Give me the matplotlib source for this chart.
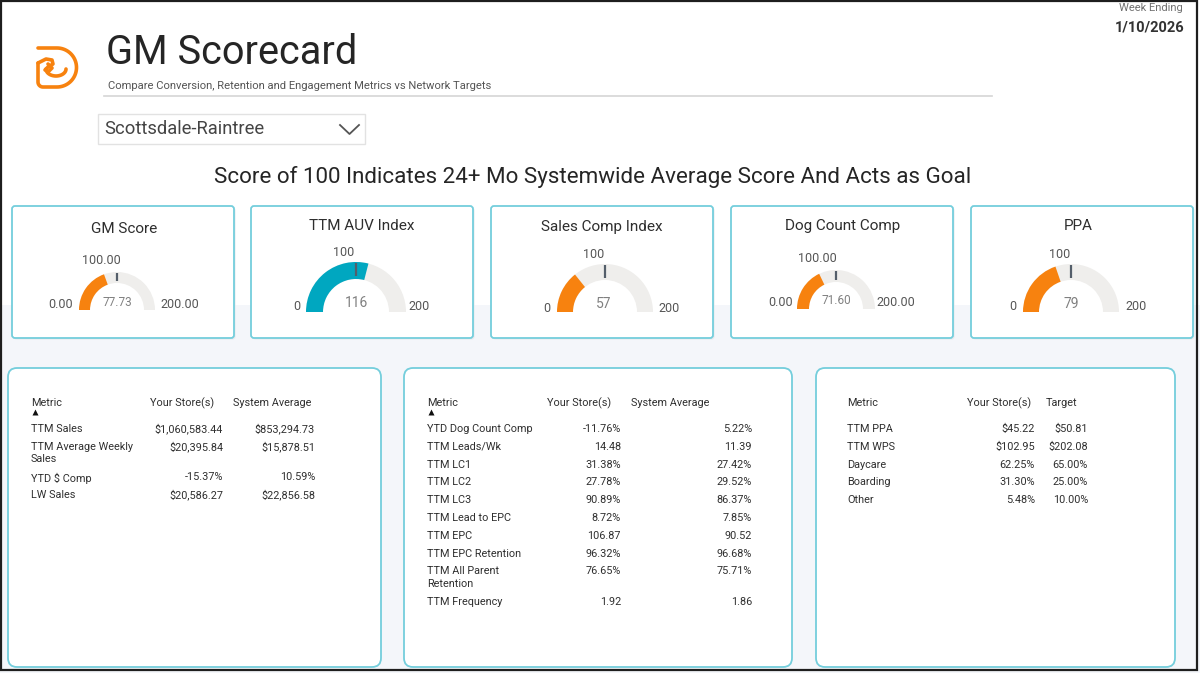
import matplotlib
matplotlib.use("Agg")
import matplotlib.pyplot as plt
from matplotlib.patches import Wedge, FancyBboxPatch, Rectangle, PathPatch
from matplotlib.path import Path
import numpy as np

plt.rcParams['font.family'] = ['Roboto', 'DejaVu Sans']

# ---------------- data ----------------
title_text = "GM Scorecard"
subtitle_text = "Compare Conversion, Retention and Engagement Metrics vs Network Targets"
store_name = "Scottsdale-Raintree"
week_label = "Week Ending"
week_date = "1/10/2026"
headline = "Score of 100 Indicates 24+ Mo Systemwide Average Score And Acts as Goal"

gauge_titles = ["GM Score", "TTM AUV Index", "Sales Comp Index", "Dog Count Comp", "PPA"]
gauge_values = [77.73, 116, 57, 71.60, 79]
gauge_targets = [100, 100, 100, 100, 100]
gauge_min = [0, 0, 0, 0, 0]
gauge_max = [200, 200, 200, 200, 200]
gauge_decimals = [2, 0, 0, 2, 0]

t1_header = ["Metric", "Your Store(s)", "System Average"]
t1_metrics = ["TTM Sales", "TTM Average Weekly\nSales", "YTD $ Comp", "LW Sales"]
t1_store = ["$1,060,583.44", "$20,395.84", "-15.37%", "$20,586.27"]
t1_system = ["$853,294.73", "$15,878.51", "10.59%", "$22,856.58"]

t2_header = ["Metric", "Your Store(s)", "System Average"]
t2_metrics = ["YTD Dog Count Comp", "TTM Leads/Wk", "TTM LC1", "TTM LC2", "TTM LC3",
              "TTM Lead to EPC", "TTM EPC", "TTM EPC Retention",
              "TTM All Parent\nRetention", "TTM Frequency"]
t2_store = ["-11.76%", "14.48", "31.38%", "27.78%", "90.89%", "8.72%", "106.87",
            "96.32%", "76.65%", "1.92"]
t2_system = ["5.22%", "11.39", "27.42%", "29.52%", "86.37%", "7.85%", "90.52",
             "96.68%", "75.71%", "1.86"]

t3_header = ["Metric", "Your Store(s)", "Target"]
t3_metrics = ["TTM PPA", "TTM WPS", "Daycare", "Boarding", "Other"]
t3_store = ["$45.22", "$102.95", "62.25%", "31.30%", "5.48%"]
t3_target = ["$50.81", "$202.08", "65.00%", "25.00%", "10.00%"]

# ---------------- style / layout ----------------
ORANGE = "#F7820F"
TEAL = "#00A7C0"
RING = "#EFEEEC"
CARD_EDGE = "#74CEDC"
gauge_colors = [ORANGE, TEAL, ORANGE, ORANGE, ORANGE]

fig = plt.figure(figsize=(12, 6.73), dpi=100)
ax = fig.add_axes([0, 0, 1, 1])
ax.set_xlim(0, 1200)
ax.set_ylim(673, 0)
ax.axis('off')

# background
ax.add_patch(Rectangle((0, 0), 1200, 673, fc='white', ec='none', zorder=0))
ax.add_patch(Rectangle((0, 305), 1200, 368, fc='#F4F6FA', ec='none', zorder=0))
ax.add_patch(Rectangle((0.8, 0.8), 1196.5, 669.5, fill=False, ec='#1E1E1E', lw=1.6, zorder=10))

# logo
def logo(ax):
    lw = 2.6
    verts = [(38, 48), (57, 48)]
    th = np.linspace(-90, 90, 40)
    verts += [(57 + 19.5 * np.cos(np.radians(t)), 67.5 + 19.5 * np.sin(np.radians(t))) for t in th]
    verts += [(43, 87)]
    th2 = np.linspace(90, 180, 10)
    verts += [(43 + 5 * np.cos(np.radians(t)), 82 + 5 * np.sin(np.radians(t))) for t in th2]
    verts += [(38, 63)]
    ax.add_patch(PathPatch(Path(verts), fill=False, ec=ORANGE, lw=lw, capstyle='round', joinstyle='round', zorder=3))
    v2 = [(38, 63), (46, 59), (52, 60), (53, 64), (48, 67), (45, 70)]
    ax.add_patch(PathPatch(Path(v2), fill=False, ec=ORANGE, lw=lw, capstyle='round', joinstyle='round', zorder=3))
    v3 = [(56 + 10 * np.cos(np.radians(t)), 69 + 7 * np.sin(np.radians(t))) for t in np.linspace(180, 0, 30)]
    ax.add_patch(PathPatch(Path(v3), fill=False, ec=ORANGE, lw=lw, capstyle='round', joinstyle='round', zorder=3))
    ax.add_patch(PathPatch(Path([(48, 64), (52, 68), (48, 72)]), fill=False, ec=ORANGE, lw=lw,
                           capstyle='round', joinstyle='round', zorder=3))

logo(ax)

# header texts
ax.text(106, 53, title_text, fontsize=28.6, color='#252525', va='center', ha='left', zorder=5)
ax.text(108, 86, subtitle_text, fontsize=8.1, color='#555555', va='center', ha='left', zorder=5)
ax.plot([104, 992], [96, 96], color='#D5D5D5', lw=1.2, zorder=4)

# dropdown
ax.add_patch(Rectangle((98, 114), 267, 30, fc='white', ec='#E2E2E2', lw=1.0, zorder=4))
ax.text(104, 129.5, store_name, fontsize=13.2, color='#444444', va='center', ha='left', zorder=5)
ax.plot([340, 349.5, 359], [125, 134, 125], color='#555555', lw=1.3, zorder=5)

# week ending
ax.text(1183, 8, week_label, fontsize=8, color='#707070', va='center', ha='right', zorder=5)
ax.text(1185, 28, week_date, fontsize=10.5, color='#333333', fontweight='bold', va='center', ha='right', zorder=5)

# headline
ax.text(593, 177, headline, fontsize=16.1, color='#252525', va='center', ha='center', zorder=5)

# gauge cards
card_x = [12, 251, 491, 731, 971]
card_w = 222
for x0 in card_x:
    ax.add_patch(FancyBboxPatch((x0 + 1.5, 207.5), card_w, 132, boxstyle="round,pad=0,rounding_size=3",
                                fc='#E6E9ED', ec='none', zorder=1))
    ax.add_patch(FancyBboxPatch((x0, 206), card_w, 132, boxstyle="round,pad=0,rounding_size=3",
                                fc='white', ec=CARD_EDGE, lw=1.3, zorder=2))

g_cx = [117, 356, 605, 836, 1071]
g_cy = [310, 312, 312, 309, 312]
g_R = [38, 50, 48, 39, 48]
g_w = [11, 17, 16, 12, 16]
g_title_xy = [(124, 229), (362, 226), (602, 227), (843, 226), (1078, 226)]
g_tgt_xy = [(101, 261), (344, 253), (594, 255), (817, 258), (1060, 254)]
g_min_xy = [(61, 305), (297, 307), (547, 308), (781, 302), (1013, 307)]
g_max_xy = [(180, 305), (419, 307), (669, 308), (896, 302), (1136, 307)]
g_val_xy = [(117, 303), (356, 303), (604, 304), (836, 300), (1071, 304)]

for i in range(5):
    cx, cy, R, w = g_cx[i], g_cy[i], g_R[i], g_w[i]
    lo, hi = gauge_min[i], gauge_max[i]
    ax.add_patch(Wedge((cx, cy), R, 180, 360, width=w, fc=RING, ec='none', zorder=3))
    frac = (gauge_values[i] - lo) / (hi - lo)
    ax.add_patch(Wedge((cx, cy), R, 180, 180 + 180 * frac, width=w, fc=gauge_colors[i], ec='none', zorder=4))
    tf = (gauge_targets[i] - lo) / (hi - lo)
    a = np.radians(180 + 180 * tf)
    r0, r1 = R - w * 0.85, R - 1
    ax.plot([cx + r0 * np.cos(a), cx + r1 * np.cos(a)], [cy + r0 * np.sin(a), cy + r1 * np.sin(a)],
            color='#545E6A', lw=1.6, zorder=5, solid_capstyle='butt')
    d = gauge_decimals[i]
    fmt = "{:.%df}" % d
    ax.text(*g_title_xy[i], gauge_titles[i], fontsize=11, color='#2E2E2E', ha='center', va='center', zorder=6)
    ax.text(*g_tgt_xy[i], fmt.format(gauge_targets[i]), fontsize=9, color='#555555', ha='center', va='center', zorder=6)
    ax.text(*g_min_xy[i], fmt.format(lo), fontsize=9, color='#555555', ha='center', va='center', zorder=6)
    ax.text(*g_max_xy[i], fmt.format(hi), fontsize=9, color='#555555', ha='center', va='center', zorder=6)
    ax.text(*g_val_xy[i], fmt.format(gauge_values[i]), fontsize=10 if d == 0 else 8.5, color='#808080',
            ha='center', va='center', zorder=6)

# table cards
tcards = [(8, 373), (404, 388), (816, 359)]
for x0, w in tcards:
    ax.add_patch(FancyBboxPatch((x0, 368), w, 299, boxstyle="round,pad=0,rounding_size=9",
                                fc='white', ec=CARD_EDGE, lw=1.3, zorder=2))

TXT = '#2F2F2F'
FS = 7.8

def draw_table(header, hx, metrics, c1, c2, mx, r1, r2, sort_arrow):
    ax.text(mx, 403, header[0], fontsize=FS, color=TXT, ha='left', va='center', zorder=6)
    ax.text(hx[0], 403, header[1], fontsize=FS, color=TXT, ha='left', va='center', zorder=6)
    ax.text(hx[1], 403, header[2], fontsize=FS, color=TXT, ha='left', va='center', zorder=6)
    if sort_arrow:
        ax.plot([mx + 4], [411.5], marker='^', ms=4.8, color='#111111', zorder=6, mec='none')
    y = 429
    for m, a, b in zip(metrics, c1, c2):
        ax.text(mx, y - 5, m, fontsize=FS, color=TXT, ha='left', va='top', zorder=6, linespacing=1.3)
        ax.text(r1, y, a, fontsize=FS, color=TXT, ha='right', va='center', zorder=6)
        ax.text(r2, y, b, fontsize=FS, color=TXT, ha='right', va='center', zorder=6)
        y += 17.8 + 12.8 * m.count('\n')

draw_table(t1_header, (150, 233), t1_metrics, t1_store, t1_system, 31, 223, 315, True)
draw_table(t2_header, (547, 631), t2_metrics, t2_store, t2_system, 427, 621, 752, True)
draw_table(t3_header, (967, 1046), t3_metrics, t3_store, t3_target, 847, 1035, 1088, False)

fig.savefig("out.png", dpi=100)
